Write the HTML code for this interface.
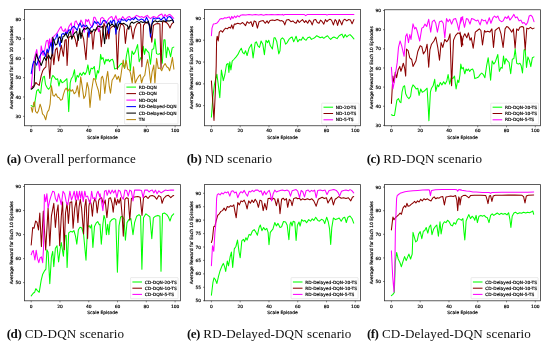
<!DOCTYPE html>
<html><head><meta charset="utf-8"><title>figure</title>
<style>
html,body{margin:0;padding:0;background:#fff;}
body{width:550px;height:348px;overflow:hidden;position:relative;}
svg{position:absolute;left:0;top:0;display:block}
.cap{position:absolute;font-family:"Liberation Serif","DejaVu Serif",serif;font-size:13.1px;color:#111;white-space:nowrap;line-height:1;}
.cap b{font-weight:bold;letter-spacing:-0.5px}
</style></head><body>
<svg width="550" height="348" viewBox="0 0 550 348" font-family="DejaVu Sans, Liberation Sans, sans-serif">
<g>
<g>
<clipPath id="ca"><rect x="24.50" y="9.50" width="156.00" height="116.25"/></clipPath>
<g clip-path="url(#ca)" fill="none" stroke-width="1.05" stroke-linejoin="round" stroke-linecap="round">
<polyline stroke="#00ff00" points="31.2,105.6 32.7,106.4 34.3,106.4 35.4,99.0 36.7,90.9 38.3,89.3 39.6,92.5 40.7,93.3 41.8,82.8 43.1,77.1 44.4,76.2 45.5,84.4 47.1,87.6 48.7,89.3 50.4,86.8 51.5,78.7 52.8,75.4 54.4,77.1 56.0,79.5 57.6,78.7 58.9,86.0 60.5,79.5 62.1,82.8 63.7,81.9 65.3,80.3 66.9,78.7 68.1,99.0 68.7,111.6 70.2,82.8 71.3,78.7 72.9,76.2 74.5,69.7 75.6,81.9 77.2,75.4 78.5,77.1 80.1,73.0 81.7,75.4 83.4,72.2 85.0,74.6 86.6,71.4 87.9,64.9 89.5,74.6 91.1,68.1 92.7,68.9 94.3,66.5 95.9,79.5 97.5,70.6 98.6,73.0 99.8,65.0 100.6,54.4 101.7,59.3 103.0,57.6 104.6,64.2 105.9,59.3 107.0,60.9 108.2,59.3 109.5,61.7 110.7,60.1 112.4,59.3 113.5,61.7 114.6,69.0 116.7,68.2 118.3,67.4 119.9,65.0 121.5,63.3 123.1,65.0 124.7,68.2 126.4,56.0 128.0,47.9 129.1,56.8 130.4,70.7 132.0,51.1 133.6,54.4 135.2,51.9 137.6,44.6 139.2,61.7 140.8,57.6 142.0,58.5 143.3,46.3 144.5,54.4 145.7,48.7 147.3,51.1 148.9,52.8 150.5,64.2 152.1,49.5 153.7,48.7 155.0,38.9 156.5,53.6 158.1,54.4 159.7,53.6 161.0,56.0 162.3,63.3 163.9,39.7 165.0,39.7 166.3,57.6 167.7,47.1 169.3,51.1 170.6,56.8 172.2,47.9 173.8,47.1"/>
<polyline stroke="#8b0000" points="31.2,88.3 33.2,86.2 34.6,85.4 35.8,82.5 37.2,83.8 39.2,85.4 41.2,75.7 42.7,70.8 44.3,68.4 45.9,66.8 46.9,51.1 48.1,53.1 49.8,78.5 51.4,57.0 52.7,52.4 53.8,64.8 55.4,49.9 57.0,47.9 58.6,60.9 60.2,50.5 61.3,45.3 63.4,56.3 65.0,40.1 66.2,39.5 67.1,65.4 68.7,37.5 70.7,36.2 72.3,36.9 73.9,35.6 75.5,40.1 76.8,46.6 78.4,34.9 80.0,33.0 81.9,33.6 83.6,38.8 86.0,59.6 87.6,33.0 89.2,31.7 90.3,33.6 91.6,31.0 92.9,49.2 94.5,32.3 96.1,29.7 97.7,28.4 99.3,31.0 100.0,30.6 101.3,46.7 102.9,30.6 104.0,23.4 105.2,26.7 106.4,39.0 107.7,30.6 108.9,39.0 110.0,28.6 112.1,26.7 114.2,26.0 115.8,26.7 116.7,50.0 117.4,69.2 118.2,50.0 119.0,31.9 120.6,24.7 122.5,24.1 124.1,26.7 125.4,43.5 127.0,29.3 129.0,26.7 130.9,26.0 133.0,39.0 134.6,29.3 136.7,24.1 139.0,22.8 140.6,24.1 141.4,50.0 141.9,66.8 142.5,50.0 143.5,25.4 145.9,22.1 148.0,23.4 149.9,24.7 151.8,42.2 153.4,25.4 155.5,24.1 157.9,23.4 159.9,24.1 160.5,50.0 161.0,68.5 161.6,50.0 162.5,22.1 164.4,21.5 166.8,22.8 168.4,24.7 170.0,28.0 171.6,24.1 173.7,22.1"/>
<polyline stroke="#ff00ff" points="31.2,87.9 32.7,70.0 34.3,58.5 36.7,49.6 38.0,58.5 39.6,70.7 41.2,45.9 43.1,55.4 44.7,49.9 46.3,41.0 47.9,40.2 48.7,48.1 49.6,38.7 50.7,45.9 52.0,38.0 53.6,36.6 55.7,34.5 57.6,32.3 59.5,28.7 61.1,26.6 62.4,30.2 64.0,31.6 65.3,28.7 66.9,33.0 68.9,26.6 71.3,23.0 72.9,35.2 75.0,21.6 76.1,20.9 77.7,24.4 79.3,25.9 80.9,20.1 82.6,23.0 84.2,32.3 85.8,19.4 87.4,21.6 88.5,19.4 90.1,24.4 92.2,27.3 93.8,17.3 94.9,17.3 96.6,20.9 98.6,31.6 99.8,28.7 100.6,18.7 102.2,17.3 103.8,18.7 105.4,23.0 107.0,21.6 108.7,18.7 110.3,17.3 111.9,16.6 113.5,20.9 114.6,18.7 115.9,15.8 117.5,20.9 119.4,18.7 121.0,19.4 122.7,16.6 124.3,18.7 125.9,19.4 127.5,17.3 129.6,16.6 131.2,18.7 132.8,18.0 134.4,17.3 136.5,15.4 138.4,16.3 140.0,17.3 142.0,16.6 143.6,17.7 145.7,16.3 147.3,15.4 148.9,17.3 150.5,18.7 152.1,17.3 153.7,16.6 155.3,17.3 156.9,18.0 158.6,15.8 160.2,14.8 161.8,14.0 163.4,17.3 165.0,14.4 166.6,16.6 168.2,15.1 169.8,14.4 171.4,15.8 173.7,18.3"/>
<polyline stroke="#0000ff" points="31.2,73.7 32.7,64.6 33.8,61.2 35.1,62.3 36.7,65.2 38.3,60.0 39.9,55.9 41.5,53.0 43.1,50.7 44.4,53.0 45.5,56.5 47.1,49.0 48.3,52.5 49.9,46.1 51.2,42.6 52.5,53.6 54.1,40.3 55.7,38.5 57.3,33.9 58.9,42.6 60.0,46.6 61.6,34.5 63.2,33.3 64.4,35.0 65.7,32.1 66.9,33.9 68.9,29.8 70.5,30.4 72.1,27.5 74.0,26.3 75.6,28.1 77.2,30.4 78.9,24.8 80.1,23.0 81.7,27.1 83.4,24.8 85.0,26.5 86.6,25.4 87.9,28.3 88.8,37.3 90.1,28.3 91.4,27.1 92.7,25.9 94.6,21.3 96.2,23.6 97.8,21.9 99.5,24.2 99.8,24.9 101.4,24.3 103.3,20.5 105.4,20.8 107.0,23.1 108.7,33.6 109.8,22.6 110.7,20.8 111.9,23.7 113.0,20.2 114.6,20.8 115.9,34.2 117.2,23.1 118.8,20.8 119.9,23.7 121.5,19.1 123.1,20.2 124.7,19.7 126.4,21.4 128.5,19.1 130.4,20.2 132.0,18.5 133.6,19.7 135.5,17.3 137.6,19.7 139.2,20.2 141.3,18.9 143.3,19.7 144.5,22.0 146.5,17.3 148.1,20.8 149.4,26.1 150.5,37.1 151.6,24.9 153.2,17.9 155.3,19.1 157.4,18.5 159.0,17.9 161.0,20.2 162.9,17.9 164.5,17.3 166.1,21.2 167.7,17.3 169.8,16.5 171.9,18.5 173.5,21.6"/>
<polyline stroke="#000000" points="31.2,89.2 32.7,88.2 34.1,86.6 35.1,61.8 36.4,53.8 38.0,59.1 39.6,61.8 41.2,65.5 42.8,61.1 44.4,57.1 46.0,60.4 47.6,57.1 48.7,55.2 50.4,59.1 52.0,55.2 52.8,37.3 54.4,42.0 55.5,45.1 57.0,44.1 58.4,38.7 60.0,36.7 61.6,42.5 63.2,36.2 64.4,35.9 66.0,33.3 67.6,37.9 69.2,32.6 70.5,31.3 71.8,39.2 73.4,34.6 75.0,32.6 76.6,31.3 78.2,40.5 79.8,28.6 80.9,38.5 82.6,30.6 84.2,28.6 85.8,29.3 87.4,27.3 89.0,28.6 90.6,31.3 92.2,31.9 93.8,29.3 95.4,30.6 97.0,27.3 98.6,26.0 99.8,26.7 101.4,27.3 102.7,26.0 103.8,37.2 104.6,43.6 105.4,34.6 105.9,28.0 107.5,24.7 108.7,22.7 110.3,26.0 111.9,24.0 113.5,25.3 114.6,27.3 115.9,23.3 117.2,29.3 118.8,24.0 120.7,23.3 122.3,24.0 123.9,23.3 125.6,24.7 127.2,25.3 128.8,29.3 130.4,23.3 132.0,22.0 133.6,23.3 135.2,22.4 137.1,21.4 139.2,22.7 140.8,21.6 142.9,22.4 144.9,21.8 146.8,23.0 148.4,21.1 149.7,26.7 150.7,33.3 152.0,24.0 153.7,21.4 155.3,20.7 157.4,22.0 159.4,21.1 161.3,21.6 163.4,20.7 165.5,21.4 167.4,20.7 169.3,21.1 171.4,20.3 172.6,19.8 173.5,22.4"/>
<polyline stroke="#b8860b" points="31.2,107.4 32.4,112.3 33.7,102.6 34.5,101.8 35.6,111.5 37.2,113.1 38.5,110.7 40.1,104.2 41.4,108.2 42.5,113.9 44.1,115.5 45.7,119.8 47.3,112.3 48.9,109.9 50.1,104.2 51.4,85.7 53.0,95.4 54.3,96.2 55.9,93.8 57.5,97.0 59.1,97.8 60.7,100.2 62.3,99.4 63.4,94.6 65.0,89.7 66.2,88.1 67.8,91.3 69.4,88.9 71.0,91.3 72.6,89.7 74.2,93.8 75.8,92.1 77.4,85.7 79.1,97.0 80.7,76.9 82.3,87.3 83.9,98.6 85.5,95.4 87.1,82.5 88.7,88.9 90.0,107.4 91.6,90.5 93.5,78.5 95.1,79.3 96.8,85.7 98.4,90.5 100.0,100.2 101.3,77.8 102.4,76.2 103.5,80.2 104.8,93.4 106.4,78.6 107.7,71.4 109.3,86.7 110.5,93.1 112.1,80.2 113.7,77.8 115.3,74.6 116.9,79.4 118.5,76.2 120.0,82.1 121.7,69.7 123.2,60.1 124.5,68.5 126.2,60.6 127.7,69.1 129.6,70.2 130.7,74.2 132.2,83.2 133.5,66.8 135.2,83.2 136.9,79.2 138.6,76.4 140.3,74.7 141.6,83.2 143.1,77.5 144.8,75.3 146.2,65.7 147.6,59.5 149.1,68.5 150.7,83.2 152.1,71.9 153.8,65.1 154.9,83.2 156.6,58.4 158.3,68.5 160.0,68.0 161.7,70.8 163.4,66.3 165.1,63.5 166.8,66.8 168.5,68.0 169.6,70.8 171.0,65.1 172.4,57.3 173.9,69.1"/>
</g>
<rect x="24.50" y="9.50" width="156.00" height="116.25" fill="none" stroke="#333" stroke-width="0.8"/>
<path d="M31.20 125.75v1.50M59.98 125.75v1.50M88.76 125.75v1.50M117.54 125.75v1.50M146.32 125.75v1.50M175.10 125.75v1.50M24.50 116.35h-1.50M24.50 96.98h-1.50M24.50 77.61h-1.50M24.50 58.24h-1.50M24.50 38.87h-1.50M24.50 19.50h-1.50" stroke="#333" stroke-width="0.6" fill="none"/>
<g font-size="4.4" fill="#000" stroke="#000" stroke-width="0.17">
<text x="31.20" y="132.45" text-anchor="middle">0</text>
<text x="59.98" y="132.45" text-anchor="middle">20</text>
<text x="88.76" y="132.45" text-anchor="middle">40</text>
<text x="117.54" y="132.45" text-anchor="middle">60</text>
<text x="146.32" y="132.45" text-anchor="middle">80</text>
<text x="175.10" y="132.45" text-anchor="middle">100</text>
<text x="21.10" y="117.95" text-anchor="end">30</text>
<text x="21.10" y="98.58" text-anchor="end">40</text>
<text x="21.10" y="79.21" text-anchor="end">50</text>
<text x="21.10" y="59.84" text-anchor="end">60</text>
<text x="21.10" y="40.47" text-anchor="end">70</text>
<text x="21.10" y="21.10" text-anchor="end">80</text>
<text x="102.50" y="138.95" text-anchor="middle">Scale Episode</text>
<text transform="translate(13.00 67.62) rotate(-90)" text-anchor="middle">Average Reward for Each 10 Episodes</text>
</g>
<rect x="124.60" y="83.50" width="53.40" height="40.50" rx="0.6" fill="#fff" fill-opacity="0.8" stroke="#ccc" stroke-width="0.4"/>
<g font-size="4.43" fill="#000" stroke="#000" stroke-width="0.17">
<path d="M126.40 87.10h9.60" stroke="#00ff00" stroke-width="1.05"/><text x="138.70" y="88.70">RD-DQN</text>
<path d="M126.40 93.60h9.60" stroke="#8b0000" stroke-width="1.05"/><text x="138.70" y="95.20">CD-DQN</text>
<path d="M126.40 100.10h9.60" stroke="#ff00ff" stroke-width="1.05"/><text x="138.70" y="101.70">ND-DQN</text>
<path d="M126.40 106.60h9.60" stroke="#0000ff" stroke-width="1.05"/><text x="138.70" y="108.20">RD-Delayed-DQN</text>
<path d="M126.40 113.10h9.60" stroke="#000000" stroke-width="1.05"/><text x="138.70" y="114.70">CD-Delayed-DQN</text>
<path d="M126.40 119.60h9.60" stroke="#b8860b" stroke-width="1.05"/><text x="138.70" y="121.20">TN</text>
</g>
</g>
<g>
<clipPath id="cb"><rect x="204.50" y="9.50" width="156.00" height="116.25"/></clipPath>
<g clip-path="url(#cb)" fill="none" stroke-width="1.05" stroke-linejoin="round" stroke-linecap="round">
<polyline stroke="#00ff00" points="211.4,117.1 212.9,97.0 214.5,84.1 216.9,74.2 218.2,84.1 219.8,97.8 221.4,70.0 223.3,80.6 224.9,74.5 226.5,64.5 228.1,63.5 228.9,72.4 229.8,61.9 230.9,70.0 232.2,61.1 233.8,59.5 235.9,57.1 237.8,54.7 239.7,50.7 241.3,48.2 242.6,52.3 244.2,53.9 245.5,50.7 247.1,55.5 249.1,48.2 251.5,44.2 253.1,57.9 255.2,42.6 256.3,41.8 257.9,45.8 259.5,47.4 261.1,41.0 262.8,44.2 264.4,54.7 266.0,40.2 267.6,42.6 268.7,40.2 270.3,45.8 272.4,49.0 274.0,37.8 275.1,37.8 276.8,41.8 278.8,53.9 280.0,50.7 280.8,39.4 282.4,37.8 284.0,39.4 285.6,44.2 287.2,42.6 288.9,39.4 290.5,37.8 292.1,37.0 293.7,41.8 294.8,39.4 296.1,36.2 297.7,41.8 299.6,39.4 301.2,40.2 302.9,37.0 304.5,39.4 306.1,40.2 307.7,37.8 309.8,37.0 311.4,39.4 313.0,38.6 314.6,37.8 316.7,35.7 318.6,36.7 320.2,37.8 322.2,37.0 323.8,38.3 325.9,36.7 327.5,35.7 329.1,37.8 330.7,39.4 332.3,37.8 333.9,37.0 335.5,37.8 337.1,38.6 338.8,36.2 340.4,35.0 342.0,34.1 343.6,37.8 345.2,34.6 346.8,37.0 348.4,35.4 350.0,34.6 351.6,36.2 353.9,38.9"/>
<polyline stroke="#8b0000" points="211.4,80.9 214.0,120.4 215.3,92.2 216.2,65.9 216.6,40.2 217.2,36.2 218.2,41.0 219.3,32.1 220.9,30.5 222.5,32.1 224.1,29.7 225.7,28.1 227.3,28.9 228.9,27.3 230.6,28.1 231.7,24.9 233.0,28.9 234.3,24.1 235.9,24.1 237.8,23.3 240.2,24.1 242.6,22.5 244.2,24.1 245.5,25.7 247.1,21.7 249.1,23.3 251.0,21.7 252.6,26.5 254.2,20.9 255.8,21.7 257.4,28.1 259.1,21.7 261.1,20.9 263.2,20.6 265.2,23.3 267.1,20.9 268.4,23.3 270.0,20.6 272.4,20.1 274.8,20.6 277.2,19.6 279.7,20.6 280.0,20.9 281.9,20.6 283.5,21.7 284.8,24.9 286.4,20.1 288.9,19.6 290.9,21.7 292.9,20.9 294.5,22.5 296.1,23.3 297.7,20.1 299.3,22.5 300.9,20.9 302.5,19.6 304.5,22.5 305.8,20.6 307.7,23.3 309.3,20.1 310.9,21.7 312.2,24.9 313.8,20.1 315.7,19.6 317.3,22.5 319.0,23.3 320.6,20.1 322.2,21.7 323.8,24.1 325.4,19.6 327.0,21.7 328.3,20.1 329.9,19.3 331.5,20.1 333.4,24.9 335.1,19.6 336.3,20.9 337.6,25.4 339.2,19.6 340.5,21.7 341.8,24.9 343.4,20.1 345.0,19.3 346.8,20.9 348.4,19.6 350.5,20.1 352.1,23.8 353.9,19.6"/>
<polyline stroke="#ff00ff" points="211.4,35.7 212.0,28.1 213.3,24.1 214.9,23.8 216.6,23.3 218.2,21.7 219.8,19.3 221.4,18.5 223.0,18.9 224.6,17.7 226.5,18.0 228.1,17.3 229.4,16.9 230.6,19.6 231.7,16.4 233.0,18.5 234.6,16.0 235.9,17.7 237.5,15.7 239.1,16.9 240.7,15.2 242.6,14.8 245.9,15.1 249.1,14.4 252.3,14.9 255.5,14.6 258.7,14.9 261.1,14.4 263.6,15.2 266.0,14.6 268.4,14.8 271.6,14.4 274.8,14.8 278.0,14.4 281.3,14.8 282.4,14.4 283.5,15.2 284.8,14.4 304.1,14.4 305.8,15.6 307.4,14.4 325.9,14.4 327.0,15.1 328.3,14.4 353.9,14.4"/>
</g>
<rect x="204.50" y="9.50" width="156.00" height="116.25" fill="none" stroke="#333" stroke-width="0.8"/>
<path d="M211.40 125.75v1.50M240.18 125.75v1.50M268.96 125.75v1.50M297.74 125.75v1.50M326.52 125.75v1.50M355.30 125.75v1.50M204.50 105.62h-1.50M204.50 83.84h-1.50M204.50 62.06h-1.50M204.50 40.28h-1.50M204.50 18.50h-1.50" stroke="#333" stroke-width="0.6" fill="none"/>
<g font-size="4.4" fill="#000" stroke="#000" stroke-width="0.17">
<text x="211.40" y="132.45" text-anchor="middle">0</text>
<text x="240.18" y="132.45" text-anchor="middle">20</text>
<text x="268.96" y="132.45" text-anchor="middle">40</text>
<text x="297.74" y="132.45" text-anchor="middle">60</text>
<text x="326.52" y="132.45" text-anchor="middle">80</text>
<text x="355.30" y="132.45" text-anchor="middle">100</text>
<text x="201.10" y="107.22" text-anchor="end">50</text>
<text x="201.10" y="85.44" text-anchor="end">60</text>
<text x="201.10" y="63.66" text-anchor="end">70</text>
<text x="201.10" y="41.88" text-anchor="end">80</text>
<text x="201.10" y="20.10" text-anchor="end">90</text>
<text x="282.50" y="138.95" text-anchor="middle">Scale Episode</text>
<text transform="translate(193.00 67.62) rotate(-90)" text-anchor="middle">Average Reward for Each 10 Episodes</text>
</g>
<rect x="321.70" y="103.20" width="37.40" height="20.80" rx="0.6" fill="#fff" fill-opacity="0.8" stroke="#ccc" stroke-width="0.4"/>
<g font-size="4.43" fill="#000" stroke="#000" stroke-width="0.17">
<path d="M323.50 107.20h9.60" stroke="#00ff00" stroke-width="1.05"/><text x="335.80" y="108.80">ND-20-TS</text>
<path d="M323.50 113.50h9.60" stroke="#8b0000" stroke-width="1.05"/><text x="335.80" y="115.10">ND-10-TS</text>
<path d="M323.50 119.80h9.60" stroke="#ff00ff" stroke-width="1.05"/><text x="335.80" y="121.40">ND-5-TS</text>
</g>
</g>
<g>
<clipPath id="cc"><rect x="384.50" y="9.75" width="156.00" height="116.00"/></clipPath>
<g clip-path="url(#cc)" fill="none" stroke-width="1.05" stroke-linejoin="round" stroke-linecap="round">
<polyline stroke="#00ff00" points="391.4,114.7 392.9,115.5 394.5,115.5 395.6,108.3 396.9,100.2 398.5,98.6 399.8,101.9 400.9,102.7 402.0,92.2 403.3,86.6 404.6,85.8 405.7,93.8 407.3,97.0 408.9,98.6 410.6,96.2 411.7,88.2 413.0,84.9 414.6,86.6 416.2,89.0 417.8,88.2 419.1,95.4 420.7,89.0 422.3,92.2 423.9,91.4 425.5,89.8 427.1,88.2 428.3,108.3 428.9,120.7 430.4,92.2 431.5,88.2 433.1,85.8 434.7,79.3 435.8,91.4 437.4,84.9 438.7,86.6 440.3,82.5 441.9,84.9 443.6,81.7 445.2,84.1 446.8,80.9 448.1,74.5 449.7,84.1 451.3,77.7 452.9,78.5 454.5,76.1 456.1,89.0 457.7,80.1 458.8,82.5 460.0,74.6 460.8,64.1 461.9,69.0 463.2,67.4 464.8,73.8 466.1,69.0 467.2,70.6 468.4,69.0 469.7,71.4 470.9,69.8 472.6,69.0 473.7,71.4 474.8,78.6 476.9,77.8 478.5,77.0 480.1,74.6 481.7,73.0 483.3,74.6 484.9,77.8 486.6,65.8 488.2,57.7 489.3,66.6 490.6,80.2 492.2,60.9 493.8,64.1 495.4,61.7 497.8,54.5 499.4,71.4 501.0,67.4 502.2,68.2 503.5,56.1 504.7,64.1 505.9,58.5 507.5,60.9 509.1,62.5 510.7,73.8 512.3,59.3 513.9,58.5 515.2,48.9 516.7,63.3 518.3,64.1 519.9,63.3 521.2,65.8 522.5,73.0 524.1,49.7 525.2,49.7 526.5,67.4 527.9,56.9 529.5,60.9 530.8,66.6 532.4,57.7 534.0,56.9"/>
<polyline stroke="#8b0000" points="391.4,103.5 392.9,76.1 394.0,82.5 395.3,72.1 396.6,77.7 398.2,69.7 399.8,66.4 400.9,71.3 402.0,68.0 403.3,63.2 403.3,63.2 404.6,68.0 405.7,76.1 406.5,49.0 408.1,50.7 409.8,57.9 411.7,59.5 413.0,66.4 415.9,61.1 417.8,51.5 420.2,45.8 421.8,46.6 423.4,53.9 425.5,50.7 427.1,44.2 428.7,67.2 429.9,49.9 431.5,44.2 433.9,41.0 435.8,37.0 437.9,48.2 439.5,60.3 441.1,42.6 442.8,47.4 444.8,39.4 446.8,41.8 448.4,39.4 450.0,33.8 451.6,85.7 453.5,40.2 455.6,35.4 458.0,32.9 459.7,33.8 461.3,36.2 462.9,45.0 460.0,32.1 461.6,46.6 463.2,37.0 464.8,33.8 466.8,37.8 468.4,32.9 470.0,40.2 471.3,37.8 473.2,48.2 475.3,32.1 477.4,30.5 479.3,28.9 480.9,30.5 482.5,45.0 484.5,30.5 485.8,32.1 487.7,31.3 489.8,32.1 491.9,28.9 493.5,47.4 495.1,30.5 497.0,28.9 499.0,27.3 501.0,33.8 503.1,47.4 505.1,28.9 506.7,26.5 508.3,27.3 510.2,29.7 511.8,32.1 513.4,28.9 515.1,48.2 516.7,28.9 518.3,30.5 519.9,27.3 522.0,26.5 523.6,27.3 525.2,49.9 526.8,28.1 528.4,28.9 530.5,27.3 532.4,28.9 534.0,28.1"/>
<polyline stroke="#ff00ff" points="391.4,67.2 392.9,89.0 394.5,80.9 396.1,69.7 397.2,62.4 397.2,62.4 398.5,47.4 400.1,41.0 401.7,45.8 404.1,56.3 405.7,36.2 407.0,33.8 408.5,42.6 409.8,34.6 411.0,39.4 413.0,23.8 414.6,28.9 415.9,27.3 417.0,30.5 419.7,41.0 421.8,28.1 423.4,27.3 425.0,24.1 426.7,26.5 428.7,19.3 430.7,32.1 432.3,21.7 434.2,20.1 435.8,23.3 437.4,32.1 439.5,21.7 441.6,20.9 443.2,23.3 444.8,37.8 446.5,18.5 448.1,21.7 449.7,19.3 451.6,24.1 453.5,19.3 455.6,18.5 457.2,23.3 458.8,30.5 460.9,17.7 462.9,16.9 460.0,24.1 461.3,17.7 462.4,16.9 464.5,27.3 466.4,18.5 468.0,19.3 470.0,24.1 471.6,18.5 473.7,19.3 476.1,20.9 478.0,20.1 480.1,24.9 481.7,19.3 483.8,20.9 485.4,20.1 487.0,24.1 489.3,17.7 490.9,23.3 493.0,17.7 494.6,16.0 496.2,17.7 497.8,16.0 499.4,20.1 501.5,21.7 503.1,20.9 505.1,16.9 507.0,18.5 508.3,16.0 509.9,20.1 511.8,17.7 513.9,14.4 515.5,17.7 517.1,16.9 519.2,20.9 520.8,20.1 522.5,23.3 524.1,22.5 526.0,24.9 527.6,22.5 529.2,16.0 530.8,15.2 532.4,16.9 534.0,21.7"/>
</g>
<rect x="384.50" y="9.75" width="156.00" height="116.00" fill="none" stroke="#333" stroke-width="0.8"/>
<path d="M391.40 125.75v1.50M420.18 125.75v1.50M448.96 125.75v1.50M477.74 125.75v1.50M506.52 125.75v1.50M535.30 125.75v1.50M384.50 125.40h-1.50M384.50 106.25h-1.50M384.50 87.10h-1.50M384.50 67.95h-1.50M384.50 48.80h-1.50M384.50 29.65h-1.50M384.50 10.50h-1.50" stroke="#333" stroke-width="0.6" fill="none"/>
<g font-size="4.4" fill="#000" stroke="#000" stroke-width="0.17">
<text x="391.40" y="132.45" text-anchor="middle">0</text>
<text x="420.18" y="132.45" text-anchor="middle">20</text>
<text x="448.96" y="132.45" text-anchor="middle">40</text>
<text x="477.74" y="132.45" text-anchor="middle">60</text>
<text x="506.52" y="132.45" text-anchor="middle">80</text>
<text x="535.30" y="132.45" text-anchor="middle">100</text>
<text x="381.10" y="127.00" text-anchor="end">30</text>
<text x="381.10" y="107.85" text-anchor="end">40</text>
<text x="381.10" y="88.70" text-anchor="end">50</text>
<text x="381.10" y="69.55" text-anchor="end">60</text>
<text x="381.10" y="50.40" text-anchor="end">70</text>
<text x="381.10" y="31.25" text-anchor="end">80</text>
<text x="381.10" y="12.10" text-anchor="end">90</text>
<text x="462.50" y="138.95" text-anchor="middle">Scale Episode</text>
<text transform="translate(373.00 67.75) rotate(-90)" text-anchor="middle">Average Reward for Each 10 Episodes</text>
</g>
<rect x="490.80" y="103.20" width="47.70" height="20.80" rx="0.6" fill="#fff" fill-opacity="0.8" stroke="#ccc" stroke-width="0.4"/>
<g font-size="4.43" fill="#000" stroke="#000" stroke-width="0.17">
<path d="M492.60 107.20h9.60" stroke="#00ff00" stroke-width="1.05"/><text x="504.90" y="108.80">RD-DQN-20-TS</text>
<path d="M492.60 113.50h9.60" stroke="#8b0000" stroke-width="1.05"/><text x="504.90" y="115.10">RD-DQN-10-TS</text>
<path d="M492.60 119.80h9.60" stroke="#ff00ff" stroke-width="1.05"/><text x="504.90" y="121.40">RD-DQN-5-TS</text>
</g>
</g>
<g>
<clipPath id="cd"><rect x="24.50" y="184.60" width="156.00" height="116.20"/></clipPath>
<g clip-path="url(#cd)" fill="none" stroke-width="1.05" stroke-linejoin="round" stroke-linecap="round">
<polyline stroke="#00ff00" points="31.2,295.9 33.2,293.3 34.6,292.3 35.8,288.7 37.2,290.3 39.2,292.3 41.2,280.2 42.7,274.2 44.3,271.2 45.9,269.2 46.9,249.8 48.1,252.2 49.8,283.7 51.4,257.0 52.7,251.4 53.8,266.7 55.4,248.2 57.0,245.8 58.6,261.9 60.2,249.0 61.3,242.5 63.4,256.2 65.0,236.1 66.2,235.3 67.1,267.5 68.7,232.9 70.7,231.3 72.3,232.1 73.9,230.5 75.5,236.1 76.8,244.1 78.4,229.7 80.0,227.2 81.9,228.0 83.6,234.5 86.0,260.2 87.6,227.2 89.2,225.6 90.3,228.0 91.6,224.8 92.9,247.4 94.5,226.4 96.1,223.2 97.7,221.6 99.3,224.8 100.0,224.2 101.3,244.2 102.9,224.2 104.0,215.4 105.2,219.4 106.4,234.7 107.7,224.2 108.9,234.7 110.0,221.8 112.1,219.4 114.2,218.6 115.8,219.4 116.7,248.4 117.4,272.2 118.2,248.4 119.0,225.9 120.6,217.0 122.5,216.2 124.1,219.4 125.4,240.3 127.0,222.6 129.0,219.4 130.9,218.6 133.0,234.7 134.6,222.6 136.7,216.2 139.0,214.6 140.6,216.2 141.4,248.4 141.9,269.2 142.5,248.4 143.5,217.8 145.9,213.8 148.0,215.4 149.9,217.0 151.8,238.7 153.4,217.8 155.5,216.2 157.9,215.4 159.9,216.2 160.5,248.4 161.0,271.2 161.6,248.4 162.5,213.8 164.4,213.0 166.8,214.6 168.4,217.0 170.0,221.0 171.6,216.2 173.7,213.8"/>
<polyline stroke="#8b0000" points="31.2,245.0 32.7,227.5 34.0,228.3 35.6,221.0 37.0,222.3 38.5,229.9 39.8,213.0 41.4,246.6 43.3,211.0 44.6,232.3 45.7,250.0 48.1,208.1 49.8,245.8 51.4,216.2 53.8,203.3 55.4,227.5 56.7,213.0 58.1,204.9 59.7,245.8 61.3,216.2 62.6,201.7 64.2,249.8 65.5,213.0 67.1,203.3 68.4,223.4 70.0,202.5 71.8,201.7 73.1,228.3 74.7,208.1 76.3,200.1 77.9,222.6 79.1,206.5 80.3,199.3 81.6,208.1 83.6,233.9 84.8,206.5 86.0,199.3 87.6,238.6 88.9,206.5 90.0,200.1 91.3,204.9 92.4,216.2 93.5,203.3 94.8,198.5 96.1,201.7 97.2,213.0 98.8,200.1 100.0,198.5 101.6,197.7 103.5,204.9 105.2,200.1 106.9,217.8 108.9,198.5 110.5,197.7 112.1,203.3 113.2,212.2 114.8,197.7 116.4,204.9 117.7,199.3 119.0,203.3 120.6,197.7 122.2,216.2 123.3,236.2 124.9,199.3 126.6,197.7 128.2,198.5 129.8,220.1 131.4,198.5 133.0,197.7 134.6,196.9 137.8,196.6 140.2,197.2 142.0,215.4 143.5,197.7 145.9,196.1 148.0,198.5 149.9,196.1 152.3,195.6 154.7,196.6 156.7,199.3 158.8,195.6 160.8,196.9 162.1,203.3 163.7,198.5 166.0,196.1 168.4,195.3 170.8,197.7 172.4,196.1 173.7,195.6"/>
<polyline stroke="#ff00ff" points="31.2,254.7 32.4,251.4 33.3,250.6 34.9,260.0 36.2,250.3 37.5,258.7 38.8,262.7 40.1,257.9 41.4,256.8 42.7,262.7 43.5,248.4 44.4,194.5 45.7,201.7 46.9,193.7 48.1,208.1 49.8,200.1 51.0,196.1 52.7,191.2 54.3,192.0 55.4,198.5 57.0,201.7 58.6,193.7 60.2,200.1 61.3,204.9 63.0,191.2 64.6,193.7 66.2,201.7 67.8,204.9 69.9,191.2 71.5,200.1 73.1,195.3 74.2,191.2 75.5,200.1 76.8,191.2 78.1,200.1 79.5,191.2 80.7,198.5 81.9,191.2 83.2,201.7 84.8,191.2 86.0,196.9 87.6,196.1 89.2,201.7 90.3,203.3 91.6,191.2 92.9,198.5 94.5,197.7 95.6,200.1 96.8,193.7 98.0,191.2 99.7,196.9 100.0,193.7 101.3,200.1 102.9,210.6 104.5,191.2 106.1,190.4 107.2,195.3 108.9,190.1 110.5,193.7 112.1,190.1 113.7,192.9 115.3,190.1 116.9,197.7 118.5,190.1 120.1,191.2 121.7,196.9 123.3,199.3 124.9,190.1 126.6,190.4 128.2,196.1 129.8,190.1 131.4,191.2 133.0,200.9 134.6,190.1 137.8,190.1 139.4,190.1 141.5,190.4 143.1,197.7 144.7,190.1 147.5,190.1 149.1,192.0 150.7,190.4 152.3,190.1 153.9,192.9 155.5,190.1 157.1,193.7 158.8,190.8 161.2,192.9 163.6,191.2 165.2,190.1 167.6,190.4 170.8,190.1 173.7,190.1"/>
</g>
<rect x="24.50" y="184.60" width="156.00" height="116.20" fill="none" stroke="#333" stroke-width="0.8"/>
<path d="M31.20 300.80v1.50M59.98 300.80v1.50M88.76 300.80v1.50M117.54 300.80v1.50M146.32 300.80v1.50M175.10 300.80v1.50M24.50 282.60h-1.50M24.50 258.57h-1.50M24.50 234.55h-1.50M24.50 210.53h-1.50M24.50 186.50h-1.50" stroke="#333" stroke-width="0.6" fill="none"/>
<g font-size="4.4" fill="#000" stroke="#000" stroke-width="0.17">
<text x="31.20" y="307.50" text-anchor="middle">0</text>
<text x="59.98" y="307.50" text-anchor="middle">20</text>
<text x="88.76" y="307.50" text-anchor="middle">40</text>
<text x="117.54" y="307.50" text-anchor="middle">60</text>
<text x="146.32" y="307.50" text-anchor="middle">80</text>
<text x="175.10" y="307.50" text-anchor="middle">100</text>
<text x="21.10" y="284.20" text-anchor="end">50</text>
<text x="21.10" y="260.18" text-anchor="end">60</text>
<text x="21.10" y="236.15" text-anchor="end">70</text>
<text x="21.10" y="212.12" text-anchor="end">80</text>
<text x="21.10" y="188.10" text-anchor="end">90</text>
<text x="102.50" y="314.00" text-anchor="middle">Scale Episode</text>
<text transform="translate(13.00 242.70) rotate(-90)" text-anchor="middle">Average Reward for Each 10 Episodes</text>
</g>
<rect x="130.60" y="277.60" width="47.50" height="21.10" rx="0.6" fill="#fff" fill-opacity="0.8" stroke="#ccc" stroke-width="0.4"/>
<g font-size="4.43" fill="#000" stroke="#000" stroke-width="0.17">
<path d="M132.40 282.00h9.60" stroke="#00ff00" stroke-width="1.05"/><text x="144.70" y="283.60">CD-DQN-20-TS</text>
<path d="M132.40 288.20h9.60" stroke="#8b0000" stroke-width="1.05"/><text x="144.70" y="289.80">CD-DQN-10-TS</text>
<path d="M132.40 294.40h9.60" stroke="#ff00ff" stroke-width="1.05"/><text x="144.70" y="296.00">CD-DQN-5-TS</text>
</g>
</g>
<g>
<clipPath id="ce"><rect x="204.50" y="184.60" width="156.00" height="116.20"/></clipPath>
<g clip-path="url(#ce)" fill="none" stroke-width="1.05" stroke-linejoin="round" stroke-linecap="round">
<polyline stroke="#00ff00" points="211.4,295.3 212.9,282.7 214.0,277.9 215.3,279.5 216.9,283.5 218.5,276.3 220.1,270.7 221.7,266.6 223.3,263.4 224.6,266.6 225.7,271.5 227.3,261.0 228.5,265.8 230.1,257.0 231.4,252.1 232.7,267.4 234.3,248.9 235.9,246.5 237.5,240.1 239.1,252.1 240.2,257.8 241.8,240.9 243.4,239.3 244.6,241.7 245.9,237.7 247.1,240.1 249.1,234.4 250.7,235.2 252.3,231.2 254.2,229.6 255.8,232.0 257.4,235.2 259.1,227.5 260.3,225.0 261.9,230.7 263.6,227.5 265.2,229.9 266.8,228.3 268.1,232.3 269.0,244.8 270.3,232.3 271.6,230.7 272.9,229.1 274.8,222.6 276.4,225.9 278.0,223.4 279.7,226.7 280.0,227.6 281.6,226.8 283.5,221.5 285.6,222.0 287.2,225.2 288.9,239.7 290.0,224.4 290.9,222.0 292.1,226.0 293.2,221.2 294.8,222.0 296.1,240.5 297.4,225.2 299.0,222.0 300.1,226.0 301.7,219.6 303.3,221.2 304.9,220.4 306.6,222.8 308.7,219.6 310.6,221.2 312.2,218.8 313.8,220.4 315.7,217.2 317.8,220.4 319.4,221.2 321.5,219.3 323.5,220.4 324.7,223.6 326.7,217.2 328.3,222.0 329.6,229.2 330.7,244.5 331.8,227.6 333.4,218.0 335.5,219.6 337.6,218.8 339.2,218.0 341.2,221.2 343.1,218.0 344.7,217.2 346.3,222.5 347.9,217.2 350.0,216.0 352.1,218.8 353.7,223.1"/>
<polyline stroke="#8b0000" points="211.4,242.5 212.4,239.3 213.7,226.7 214.9,226.2 216.1,221.0 217.7,215.4 219.3,213.8 220.9,211.4 222.5,210.6 224.1,208.1 225.7,210.6 227.3,206.5 228.9,207.3 230.6,205.7 232.2,206.5 233.8,204.9 234.9,211.4 236.2,217.8 237.8,202.5 239.4,204.9 241.0,200.9 242.6,201.7 244.2,200.1 245.9,204.1 247.1,208.9 248.7,200.9 250.4,203.3 252.0,200.1 253.6,202.5 255.2,199.3 256.8,201.7 258.4,207.3 260.0,200.1 261.6,200.9 263.2,210.6 264.8,203.3 266.5,209.8 268.1,198.5 270.0,198.2 271.6,200.1 273.2,198.2 274.8,199.3 276.4,205.7 278.0,198.5 279.3,204.9 280.0,213.8 281.6,199.3 283.2,198.2 284.8,200.1 286.4,198.5 287.7,207.3 289.3,199.3 290.9,200.9 292.1,205.7 293.7,198.5 296.1,197.7 297.7,198.8 299.3,198.2 300.9,200.1 302.5,198.8 304.9,199.8 307.4,198.8 309.8,199.8 311.9,198.8 313.8,200.9 316.2,206.2 318.3,199.3 320.2,198.2 322.2,197.2 324.3,198.5 326.4,197.7 328.0,203.0 329.6,200.1 331.5,197.2 333.4,204.9 335.1,199.3 336.7,198.2 338.8,196.6 341.2,198.2 343.6,197.7 346.0,198.5 348.4,197.7 350.8,200.9 352.4,197.2 353.7,196.6"/>
<polyline stroke="#ff00ff" points="211.4,265.8 212.5,245.7 213.8,251.3 214.9,232.8 215.8,224.2 216.6,198.5 217.2,194.9 218.5,193.7 220.1,194.9 221.7,192.9 223.3,194.0 224.9,192.0 226.5,192.9 228.1,191.7 229.8,196.1 231.4,191.2 233.0,190.8 234.6,192.9 236.2,192.0 237.8,197.7 239.4,193.7 241.0,191.7 242.6,192.9 244.2,190.4 245.9,193.7 247.5,196.1 249.1,191.2 250.7,192.0 252.3,190.4 253.9,191.7 255.5,190.1 257.9,190.1 259.5,191.7 261.1,190.8 262.8,195.3 264.4,191.2 266.0,194.5 267.6,192.0 269.2,190.4 270.3,193.7 271.6,200.9 273.2,193.7 274.8,190.1 276.4,192.0 278.0,191.2 279.7,190.8 280.0,190.4 282.4,190.1 284.8,190.8 287.2,190.1 288.9,191.2 290.5,196.1 292.1,190.8 294.5,190.1 296.1,189.6 297.7,191.2 299.6,197.7 301.2,190.4 302.9,192.0 304.5,196.9 306.1,190.8 308.2,190.1 309.8,192.0 311.4,190.4 313.0,191.2 314.6,190.1 316.2,197.7 317.8,190.4 320.2,190.1 322.7,190.8 325.1,190.1 327.0,194.5 329.1,190.4 331.5,190.1 333.9,189.6 336.3,190.4 338.3,192.9 339.6,196.1 341.5,191.2 343.6,190.4 346.0,190.1 348.4,190.8 350.0,189.6 351.6,190.4 353.7,192.9"/>
</g>
<rect x="204.50" y="184.60" width="156.00" height="116.20" fill="none" stroke="#333" stroke-width="0.8"/>
<path d="M211.40 300.80v1.50M240.18 300.80v1.50M268.96 300.80v1.50M297.74 300.80v1.50M326.52 300.80v1.50M355.30 300.80v1.50M204.50 300.70h-1.50M204.50 287.28h-1.50M204.50 273.85h-1.50M204.50 260.43h-1.50M204.50 247.00h-1.50M204.50 233.58h-1.50M204.50 220.15h-1.50M204.50 206.73h-1.50M204.50 193.30h-1.50" stroke="#333" stroke-width="0.6" fill="none"/>
<g font-size="4.4" fill="#000" stroke="#000" stroke-width="0.17">
<text x="211.40" y="307.50" text-anchor="middle">0</text>
<text x="240.18" y="307.50" text-anchor="middle">20</text>
<text x="268.96" y="307.50" text-anchor="middle">40</text>
<text x="297.74" y="307.50" text-anchor="middle">60</text>
<text x="326.52" y="307.50" text-anchor="middle">80</text>
<text x="355.30" y="307.50" text-anchor="middle">100</text>
<text x="201.10" y="302.30" text-anchor="end">50</text>
<text x="201.10" y="288.88" text-anchor="end">55</text>
<text x="201.10" y="275.45" text-anchor="end">60</text>
<text x="201.10" y="262.03" text-anchor="end">65</text>
<text x="201.10" y="248.60" text-anchor="end">70</text>
<text x="201.10" y="235.18" text-anchor="end">75</text>
<text x="201.10" y="221.75" text-anchor="end">80</text>
<text x="201.10" y="208.33" text-anchor="end">85</text>
<text x="201.10" y="194.90" text-anchor="end">90</text>
<text x="282.50" y="314.00" text-anchor="middle">Scale Episode</text>
<text transform="translate(193.00 242.70) rotate(-90)" text-anchor="middle">Average Reward for Each 10 Episodes</text>
</g>
<rect x="291.10" y="277.60" width="67.00" height="21.10" rx="0.6" fill="#fff" fill-opacity="0.8" stroke="#ccc" stroke-width="0.4"/>
<g font-size="4.43" fill="#000" stroke="#000" stroke-width="0.17">
<path d="M292.90 282.00h9.60" stroke="#00ff00" stroke-width="1.05"/><text x="305.20" y="283.60">RD-Delayed-DQN-20-TS</text>
<path d="M292.90 288.20h9.60" stroke="#8b0000" stroke-width="1.05"/><text x="305.20" y="289.80">RD-Delayed-DQN-10-TS</text>
<path d="M292.90 294.40h9.60" stroke="#ff00ff" stroke-width="1.05"/><text x="305.20" y="296.00">RD-Delayed-DQN-5-TS</text>
</g>
</g>
<g>
<clipPath id="cf"><rect x="384.50" y="184.60" width="156.00" height="116.20"/></clipPath>
<g clip-path="url(#cf)" fill="none" stroke-width="1.05" stroke-linejoin="round" stroke-linecap="round">
<polyline stroke="#00ff00" points="391.4,295.7 392.9,294.4 394.3,292.5 395.3,262.2 396.6,252.5 398.2,259.0 399.8,262.2 401.4,266.7 403.0,261.4 404.6,256.6 406.2,260.6 407.8,256.6 408.9,254.1 410.6,259.0 412.2,254.1 413.0,232.4 414.6,238.1 415.7,241.9 417.2,240.7 418.6,234.1 420.2,231.6 421.8,238.7 423.4,231.0 424.6,230.7 426.2,227.5 427.8,233.1 429.4,226.7 430.7,225.0 432.0,234.7 433.6,229.1 435.2,226.7 436.8,225.0 438.4,236.3 440.0,221.8 441.1,233.9 442.8,224.2 444.4,221.8 446.0,222.6 447.6,220.2 449.2,221.8 450.8,225.0 452.4,225.9 454.0,222.6 455.6,224.2 457.2,220.2 458.8,218.6 460.0,219.4 461.6,220.2 462.9,218.6 464.0,232.3 464.8,240.0 465.6,229.1 466.1,221.0 467.7,217.0 468.9,214.6 470.5,218.6 472.1,216.2 473.7,217.8 474.8,220.2 476.1,215.4 477.4,222.6 479.0,216.2 480.9,215.4 482.5,216.2 484.1,215.4 485.8,217.0 487.4,217.8 489.0,222.6 490.6,215.4 492.2,213.8 493.8,215.4 495.4,214.3 497.3,213.0 499.4,214.6 501.0,213.3 503.1,214.3 505.1,213.5 507.0,214.9 508.6,212.7 509.9,219.4 510.9,227.5 512.2,216.2 513.9,213.0 515.5,212.2 517.6,213.8 519.6,212.7 521.5,213.3 523.6,212.2 525.7,213.0 527.6,212.2 529.5,212.7 531.6,211.7 532.8,211.0 533.7,214.3"/>
<polyline stroke="#8b0000" points="391.4,229.9 392.9,217.0 394.0,219.7 395.6,217.5 397.2,216.2 398.8,214.6 400.1,213.0 401.4,214.3 403.0,208.1 404.6,205.7 405.7,207.3 406.9,203.3 408.1,206.2 409.8,205.7 411.4,204.1 413.0,203.0 414.6,201.4 415.9,203.0 417.5,200.9 419.1,202.0 420.7,199.3 422.3,200.9 423.9,198.8 425.5,199.8 427.5,198.8 429.1,200.1 431.0,200.9 432.6,198.2 434.2,196.9 435.8,198.8 437.4,197.7 439.1,198.2 440.7,196.9 442.8,196.6 444.4,204.9 446.0,196.9 448.4,196.6 450.8,196.1 453.2,196.6 455.6,195.6 456.8,200.1 457.7,210.6 458.8,196.9 459.7,199.3 460.0,204.9 461.3,196.9 463.2,195.6 465.6,195.3 467.7,196.9 468.9,197.7 470.5,195.6 474.5,195.3 480.9,195.3 485.8,195.6 487.0,199.3 488.0,203.6 489.3,196.1 490.6,195.6 491.9,201.4 493.2,196.1 495.4,195.3 501.9,195.3 508.3,195.1 514.7,195.1 522.0,195.3 523.6,196.6 525.0,203.0 526.3,196.1 528.4,195.3 533.7,195.1"/>
<polyline stroke="#ff00ff" points="391.4,250.9 392.7,276.7 394.0,292.1 394.8,270.2 395.4,230.0 395.9,216.2 396.6,198.5 397.2,195.6 398.5,194.5 400.1,193.3 402.5,192.4 404.9,191.7 408.1,191.2 413.0,190.8 417.8,190.4 422.6,190.1 428.3,189.8 429.4,190.1 430.4,195.6 431.5,190.4 435.5,189.8 441.9,189.6 448.4,189.5 454.8,189.5 456.8,189.8 457.7,191.2 458.8,189.6 461.3,189.8 460.0,190.1 463.2,190.4 466.4,190.9 469.7,191.2 472.9,192.0 476.1,192.0 482.5,192.4 489.0,192.4 490.6,193.3 492.2,192.4 501.9,192.2 514.7,192.2 527.6,192.2 533.7,192.0"/>
</g>
<rect x="384.50" y="184.60" width="156.00" height="116.20" fill="none" stroke="#333" stroke-width="0.8"/>
<path d="M391.40 300.80v1.50M420.18 300.80v1.50M448.96 300.80v1.50M477.74 300.80v1.50M506.52 300.80v1.50M535.30 300.80v1.50M384.50 281.50h-1.50M384.50 257.90h-1.50M384.50 234.30h-1.50M384.50 210.70h-1.50M384.50 187.10h-1.50" stroke="#333" stroke-width="0.6" fill="none"/>
<g font-size="4.4" fill="#000" stroke="#000" stroke-width="0.17">
<text x="391.40" y="307.50" text-anchor="middle">0</text>
<text x="420.18" y="307.50" text-anchor="middle">20</text>
<text x="448.96" y="307.50" text-anchor="middle">40</text>
<text x="477.74" y="307.50" text-anchor="middle">60</text>
<text x="506.52" y="307.50" text-anchor="middle">80</text>
<text x="535.30" y="307.50" text-anchor="middle">100</text>
<text x="381.10" y="283.10" text-anchor="end">50</text>
<text x="381.10" y="259.50" text-anchor="end">60</text>
<text x="381.10" y="235.90" text-anchor="end">70</text>
<text x="381.10" y="212.30" text-anchor="end">80</text>
<text x="381.10" y="188.70" text-anchor="end">90</text>
<text x="462.50" y="314.00" text-anchor="middle">Scale Episode</text>
<text transform="translate(373.00 242.70) rotate(-90)" text-anchor="middle">Average Reward for Each 10 Episodes</text>
</g>
<rect x="471.10" y="277.60" width="67.00" height="21.10" rx="0.6" fill="#fff" fill-opacity="0.8" stroke="#ccc" stroke-width="0.4"/>
<g font-size="4.43" fill="#000" stroke="#000" stroke-width="0.17">
<path d="M472.90 282.00h9.60" stroke="#00ff00" stroke-width="1.05"/><text x="485.20" y="283.60">CD-Delayed-DQN-20-TS</text>
<path d="M472.90 288.20h9.60" stroke="#8b0000" stroke-width="1.05"/><text x="485.20" y="289.80">CD-Delayed-DQN-10-TS</text>
<path d="M472.90 294.40h9.60" stroke="#ff00ff" stroke-width="1.05"/><text x="485.20" y="296.00">CD-Delayed-DQN-5-TS</text>
</g>
</g>
</g>
</svg>
<div class="cap" style="left:6.76px;top:151.93px"><b>(a)</b><span style="letter-spacing:0.171px"> Overall performance</span></div>
<div class="cap" style="left:186.76px;top:151.93px"><b>(b)</b><span style="letter-spacing:0.145px"> ND scenario</span></div>
<div class="cap" style="left:366.76px;top:151.93px"><b>(c)</b><span style="letter-spacing:0.07px"> RD-DQN scenario</span></div>
<div class="cap" style="left:6.76px;top:326.93px"><b>(d)</b><span style="letter-spacing:0.12px"> CD-DQN scenario</span></div>
<div class="cap" style="left:186.90px;top:326.93px"><b>(e)</b><span style="letter-spacing:0.104px"> RD-Delayed-DQN scenario</span></div>
<div class="cap" style="left:366.90px;top:326.93px"><b>(f)</b><span style="letter-spacing:0.145px"> CD-Delayed-DQN scenario</span></div>
</body></html>
